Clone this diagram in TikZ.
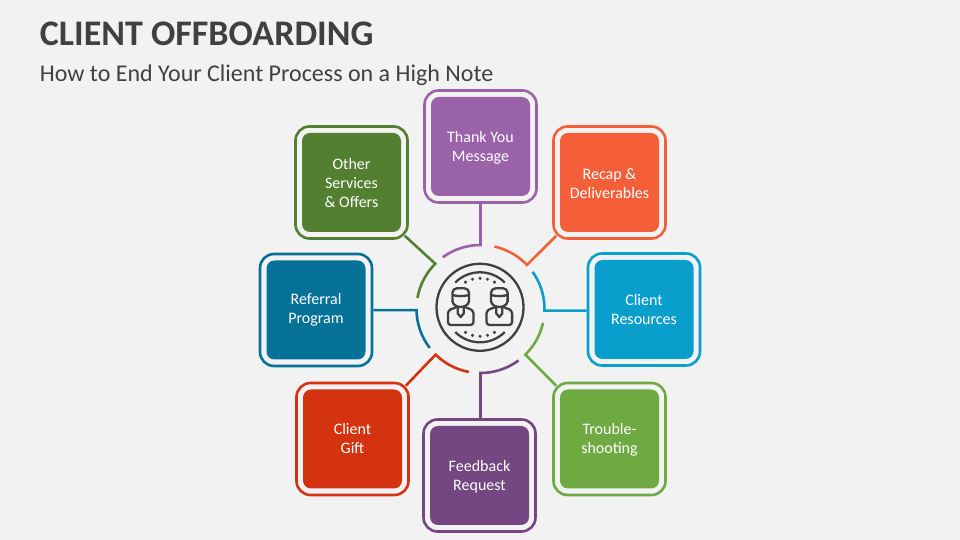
\documentclass[tikz,border=0pt]{standalone}
\usepackage{fontspec}
\usetikzlibrary{calc}
\setmainfont{Carlito}
\newfontfamily\boxfont{Carlito}
\definecolor{bgc}{HTML}{F2F2F2}
\definecolor{ink}{HTML}{404040}
\definecolor{cPurple}{HTML}{9A62A8}
\definecolor{cOrange}{HTML}{F45F3A}
\definecolor{cBlue}{HTML}{0A9ECC}
\definecolor{cLime}{HTML}{6EAA41}
\definecolor{cPlum}{HTML}{744682}
\definecolor{cRed}{HTML}{D3330E}
\definecolor{cTeal}{HTML}{077298}
\definecolor{cGreen}{HTML}{527F30}
\tikzset{
  x=1pt,y=1pt,
  innerbox/.style={minimum width=99pt,minimum height=99pt,rounded corners=8pt,inner sep=0pt},
  boxtext/.style={inner sep=0pt,align=center,text=white,font=\boxfont\fontsize{16}{19}\selectfont},
  outerbox/.style={draw,line width=2.6pt,minimum width=112pt,minimum height=112pt,rounded corners=14pt,inner sep=0pt},
  link/.style={line width=2.6pt,line cap=butt,line join=miter},
  iconline/.style={draw=ink,line width=2.3pt,line cap=butt,line join=round},
  dotmark/.style={fill=ink},
}
\newcommand{\card}[6][-1.2]{%
  \pgfmathsetmacro{\yy}{540-#5}
  \node[outerbox,draw=#3] (#2o) at (#4,\yy) {};
  \node[innerbox,fill=#3] (#2) at (#4,\yy) {};
  \node[boxtext] (#2t) at ($(#2)+(0,#1)$) {#6};
}
\newcommand{\person}[1]{%
  \begin{scope}[shift={(#1,233)}]
    \draw[iconline,rounded corners=4.5pt] (-8.3,5) -- (-8.3,18.7) -- (8.3,18.7) -- (8.3,5);
    \draw[iconline] (-8.3,12) .. controls (-3,10.5) and (3,10.5) .. (8.3,12);
    \draw[iconline] (-8.3,6) .. controls (-8,2) and (-3.5,0) .. (0,0) .. controls (3.5,0) and (8,2) .. (8.3,6);
    \draw[iconline,rounded corners=3pt] (-4,0) -- (-12.8,-3.5) -- (-12.8,-18) -- (12.8,-18) -- (12.8,-3.5) -- (4,0);
    \draw[iconline] (-3,0) -- (-3,-6.5) -- (0,-10) -- (3,-6.5) -- (3,0);
  \end{scope}%
}
\begin{document}
\begin{tikzpicture}
\useasboundingbox (0,0) rectangle (960,540);
\fill[bgc] (0,0) rectangle (960,540);
\node[anchor=base west,inner sep=0pt,text=ink,font=\fontsize{36}{38}\selectfont\bfseries] (title) at (39.7,494) {CLIENT OFFBOARDING};
\node[anchor=base west,inner sep=0pt,text=ink,font=\fontsize{24}{26}\selectfont] (sub) at (39.7,458.8) {How to End Your Client Process on a High Note};
\card{thank}{cPurple}{480.5}{146.5}{Thank You\\Message}
\card[-0.4]{other}{cGreen}{351.5}{182.5}{Other\\Services\\\&\ Offers}
\card{recap}{cOrange}{609.5}{182.5}{Recap \&\\Deliverables}
\card[0]{res}{cBlue}{644}{309.5}{Client\\Resources}
\card[0]{ref}{cTeal}{316}{310}{Referral\\Program}
\card[0]{gift}{cRed}{352.5}{439}{Client\\Gift}
\card{feed}{cPlum}{479.5}{475.5}{Feedback\\Request}
\card[-0.6]{trouble}{cLime}{609.5}{439}{Trouble-\\shooting}
\coordinate (hub) at (480.5,231);
\def\rr{64pt}
\coordinate (eTop) at ($(hub)+(90:\rr)$);
\coordinate (eRes) at ($(hub)+(-1.5:\rr)$);
\coordinate (eFeed) at ($(hub)+(-90:\rr)$);
\coordinate (eRef) at ($(hub)+(181:\rr)$);
\draw[link,draw=cPurple] (thanko.south -| eTop) -- (eTop) arc[start angle=90,end angle=126,radius=\rr];
\draw[link,draw=cOrange] ($(recapo.south west)+(4,4)$) -- ($(hub)+(43.5:\rr)$) arc[start angle=43.5,end angle=77.5,radius=\rr];
\draw[link,draw=cBlue] (reso.west |- eRes) -- (eRes) arc[start angle=-1.5,end angle=35.5,radius=\rr];
\draw[link,draw=cLime] ($(troubleo.north west)+(4,-4)$) -- ($(hub)+(-45.5:\rr)$) arc[start angle=-45.5,end angle=-12.5,radius=\rr];
\draw[link,draw=cPlum] (feedo.north -| eFeed) -- (eFeed) arc[start angle=-90,end angle=-53.5,radius=\rr];
\draw[link,draw=cRed] ($(gifto.north east)+(-4,-4)$) -- ($(hub)+(-134.5:\rr)$) arc[start angle=-134.5,end angle=-100.5,radius=\rr];
\draw[link,draw=cTeal] (refo.east |- eRef) -- (eRef) arc[start angle=181,end angle=217.5,radius=\rr];
\draw[link,draw=cGreen] ($(othero.south east)+(-4,4)$) -- ($(hub)+(135:\rr)$) arc[start angle=135,end angle=170,radius=\rr];
% icon
\coordinate (ic) at (480,232.7);
\node[circle,iconline,minimum size=87pt,inner sep=0pt] (ring) at (ic) {};
\draw[iconline] ($(ic)+(45:35pt)$) arc[start angle=45,end angle=135,radius=35pt];
\draw[iconline] ($(ic)+(-45:35pt)$) arc[start angle=-45,end angle=-135,radius=35pt];
\foreach \a in {60,75,90,105,120,-60,-75,-90,-105,-120}
  \fill[dotmark] ($(ic)+(\a:29pt)$) circle[radius=1.7pt];
\person{460.7}
\person{499.3}
\end{tikzpicture}
\end{document}
